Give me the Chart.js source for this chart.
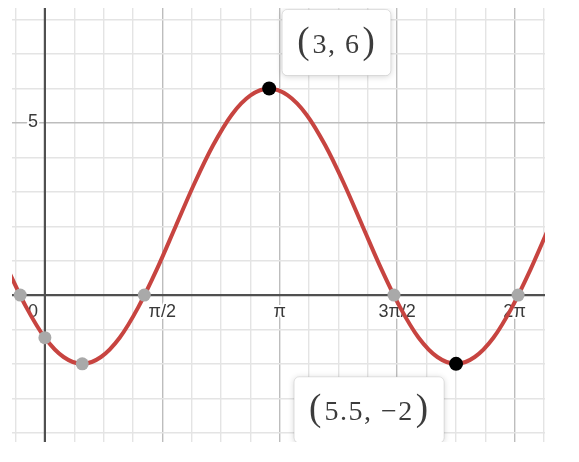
<!DOCTYPE html>
<html>
<head>
<meta charset="utf-8">
<script src="https://cdn.jsdelivr.net/npm/chart.js@4"></script>
<style>
  html, body { margin: 0; padding: 0; background: #fff; }
  #wrap { width: 579px; height: 462px; position: relative; }
</style>
</head>
<body>
<div id="wrap"><canvas id="graph"></canvas></div>
<script>
// curve, every 0.25 along x
const curveX = [-0.5, -0.25, 0, 0.25, 0.5, 0.75, 1, 1.25, 1.5, 1.75,
  2, 2.25, 2.5, 2.75, 3, 3.25, 3.5, 3.75, 4, 4.25,
  4.5, 4.75, 5, 5.25, 5.5, 5.75, 6, 6.25, 6.5, 6.75];
const curveY = [0.76, -0.35, -1.24, -1.8, -2, -1.8, -1.24, -0.35, 0.76, 2,
  3.24, 4.35, 5.24, 5.8, 6, 5.8, 5.24, 4.35, 3.24, 2,
  0.76, -0.35, -1.24, -1.8, -2, -1.8, -1.24, -0.35, 0.76, 2];

// grey points (intercepts etc.)
const greyX = [-0.33, 0, 0.5, 1.33, 4.67, 6.33];
const greyY = [0, -1.24, -2, 0, 0, 0];

// labelled points
const keyX = [3, 5.5];
const keyY = [6, -2];
const keyLabels = ["3, 6", "5.5, \u22122"];

// axis labels
const xTickValues = [0, Math.PI / 2, Math.PI, 3 * Math.PI / 2, 2 * Math.PI];
const xTickLabels = ["0", "\u03c0/2", "\u03c0", "3\u03c0/2", "2\u03c0"];
const yTickValues = [5];
const yTickLabels = ["5"];

const STEP_X = Math.PI / 8;

const toPoints = (xs, ys) => xs.map((x, i) => ({ x: x, y: ys[i] }));

const axesPlugin = {
  id: "axes",
  beforeDatasetsDraw(chart) {
    const { ctx, chartArea: a, scales: { x, y } } = chart;
    const x0 = x.getPixelForValue(0);
    const y0 = y.getPixelForValue(0);
    ctx.save();
    ctx.strokeStyle = "#505050";
    ctx.lineWidth = 2.2;
    ctx.beginPath();
    ctx.moveTo(a.left, y0); ctx.lineTo(a.right, y0);
    ctx.moveTo(x0, a.top); ctx.lineTo(x0, a.bottom);
    ctx.stroke();

    ctx.font = '18px "Liberation Sans"';
    ctx.fillStyle = "#3a3a3a";
    ctx.strokeStyle = "#fff";
    ctx.lineWidth = 4;
    ctx.lineJoin = "round";
    ctx.textBaseline = "middle";
    ctx.textAlign = "center";
    xTickValues.forEach((v, i) => {
      let px = x.getPixelForValue(v);
      if (v === 0) px -= 12;
      ctx.strokeText(xTickLabels[i], px, y0 + 17);
      ctx.fillText(xTickLabels[i], px, y0 + 17);
    });
    ctx.textAlign = "right";
    yTickValues.forEach((v, i) => {
      const py = y.getPixelForValue(v) - 1;
      ctx.strokeText(yTickLabels[i], x0 - 7, py);
      ctx.fillText(yTickLabels[i], x0 - 7, py);
    });
    ctx.restore();
  }
};

const calloutPlugin = {
  id: "callouts",
  afterDatasetsDraw(chart, args, opts) {
    const { ctx, chartArea: a, scales: { x, y } } = chart;
    ctx.save();
    ctx.beginPath();
    ctx.rect(a.left, a.top, a.right - a.left, a.bottom - a.top);
    ctx.clip();
    keyLabels.forEach((txt, i) => {
      const px = x.getPixelForValue(keyX[i]);
      const py = y.getPixelForValue(keyY[i]);
      ctx.font = '28px "Liberation Serif"';
      ctx.letterSpacing = "1.5px";
      const wc = ctx.measureText(txt).width;
      ctx.font = '37px "Liberation Serif"';
      ctx.letterSpacing = "0px";
      const wp = ctx.measureText("(").width;
      const w = 15 + wp + 3 + wc + 2 + wp + 16;
      const h = 66;
      const right = opts.sides[i] === "right";
      const left = right ? px + 13 : px - 12 - w;
      const top = right ? py - 13 - h : py + 13;

      ctx.shadowColor = "rgba(0,0,0,0.18)";
      ctx.shadowBlur = 6;
      ctx.shadowOffsetY = 1;
      ctx.fillStyle = "#fff";
      ctx.beginPath();
      ctx.roundRect(left, top, w, h, 5);
      ctx.fill();
      ctx.shadowColor = "transparent";
      ctx.strokeStyle = "rgba(0,0,0,0.1)";
      ctx.lineWidth = 1;
      ctx.stroke();

      const cy = top + h / 2 + 1;
      ctx.fillStyle = "#3c3c3c";
      ctx.textAlign = "left";
      ctx.textBaseline = "alphabetic";
      ctx.fillText("(", left + 15, cy + 9.5);
      ctx.fillText(")", left + 15 + wp + 3 + wc + 2, cy + 9.5);
      ctx.font = '28px "Liberation Serif"';
      ctx.letterSpacing = "1.5px";
      ctx.fillText(txt, left + 15 + wp + 3, cy + 9);
      ctx.letterSpacing = "0px";
    });
    ctx.restore();
  }
};

const gridColor = (major) => (major ? "#bdbdbd" : "#e4e4e4");

new Chart(document.getElementById("graph").getContext("2d"), {
  type: "scatter",
  data: {
    datasets: [
      {
        data: toPoints(keyX, keyY),
        pointRadius: 7,
        pointBackgroundColor: "#000",
        pointBorderWidth: 0,
        order: 1,
        clip: 0,
      },
      {
        data: toPoints(greyX, greyY),
        pointRadius: 6.5,
        pointBackgroundColor: "#a9a9a9",
        pointBorderWidth: 0,
        order: 2,
        clip: 0,
      },
      {
        data: toPoints(curveX, curveY),
        showLine: true,
        borderColor: "#c74440",
        borderWidth: 4,
        pointRadius: 0,
        cubicInterpolationMode: "monotone",
        order: 3,
        clip: 0,
      },
    ],
  },
  options: {
    responsive: true,
    maintainAspectRatio: false,
    animation: false,
    layout: { padding: { left: 12, top: 8, right: 34, bottom: 20 } },
    plugins: {
      legend: { display: false },
      tooltip: { enabled: false },
      callouts: { sides: ["right", "left"] },
    },
    scales: {
      x: {
        type: "linear",
        min: -0.44,
        max: 6.69,
        afterBuildTicks(scale) {
          const ticks = [];
          for (let k = Math.ceil(scale.min / STEP_X); k * STEP_X <= scale.max; k++) {
            ticks.push({ value: k * STEP_X });
          }
          scale.ticks = ticks;
        },
        ticks: { display: false },
        grid: {
          drawTicks: false,
          lineWidth: 1.4,
          color: (c) => gridColor(Math.round(c.tick.value / STEP_X) % 4 === 0),
        },
        border: { display: false },
      },
      y: {
        type: "linear",
        min: -4.27,
        max: 8.34,
        afterBuildTicks(scale) {
          const ticks = [];
          for (let v = Math.ceil(scale.min); v <= scale.max; v++) ticks.push({ value: v });
          scale.ticks = ticks;
        },
        ticks: { display: false },
        grid: {
          drawTicks: false,
          lineWidth: 1.4,
          color: (c) => gridColor(c.tick.value % 5 === 0),
        },
        border: { display: false },
      },
    },
  },
  plugins: [axesPlugin, calloutPlugin],
});
</script>
</body>
</html>
